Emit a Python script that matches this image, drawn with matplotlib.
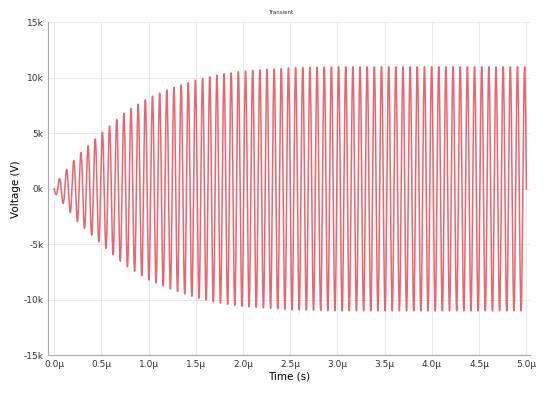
import numpy as np
import matplotlib
matplotlib.use("Agg")
import matplotlib.pyplot as plt

# envelope (time in µs, amplitude in V)
env_t = [0.0, 0.25, 0.5, 0.75, 1.0, 1.25, 1.5, 1.75, 2.0, 2.5, 3.0, 4.0, 5.0]
env_v = [300, 3000, 5000, 6900, 8200, 9100, 9800, 10300, 10600, 10900, 11000, 11000, 11000]
freq_mhz = 13.2
xticks = [0, 0.5, 1.0, 1.5, 2.0, 2.5, 3.0, 3.5, 4.0, 4.5, 5.0]
xlabels = ["0.0µ", "0.5µ", "1.0µ", "1.5µ", "2.0µ", "2.5µ", "3.0µ", "3.5µ", "4.0µ", "4.5µ", "5.0µ"]
yticks = [-15000, -10000, -5000, 0, 5000, 10000, 15000]
ylabels = ["-15k", "-10k", "-5k", "0k", "5k", "10k", "15k"]

t = np.linspace(0, 5.0, 20000)
v = -np.interp(t, env_t, env_v) * np.sin(2 * np.pi * freq_mhz * t)

fig = plt.figure(figsize=(5.5, 4), dpi=100)
ax = fig.add_axes([0.088, 0.112, 0.876, 0.832])
ax.plot(t, v, color="#e84a55", lw=1.1, alpha=0.85)
ax.set_xlim(-0.06, 5.04)
ax.set_ylim(-15000, 15000)
ax.set_xticks(xticks, xlabels)
ax.set_yticks(yticks, ylabels)
ax.tick_params(labelsize=6.5, length=0, colors="#333333")
ax.grid(True, color="#e6e6e6", lw=0.6)
for s in ["top", "right"]:
    ax.spines[s].set_visible(False)
for s in ["left", "bottom"]:
    ax.spines[s].set_color("#aaaaaa")
ax.set_xlabel("Time (s)", fontsize=7.5, labelpad=2)
ax.set_ylabel("Voltage (V)", fontsize=7.5, labelpad=2)
fig.text(0.51, 0.965, "Transient", fontsize=4, ha="center", color="#333333")
fig.savefig("out.png", dpi=100)
